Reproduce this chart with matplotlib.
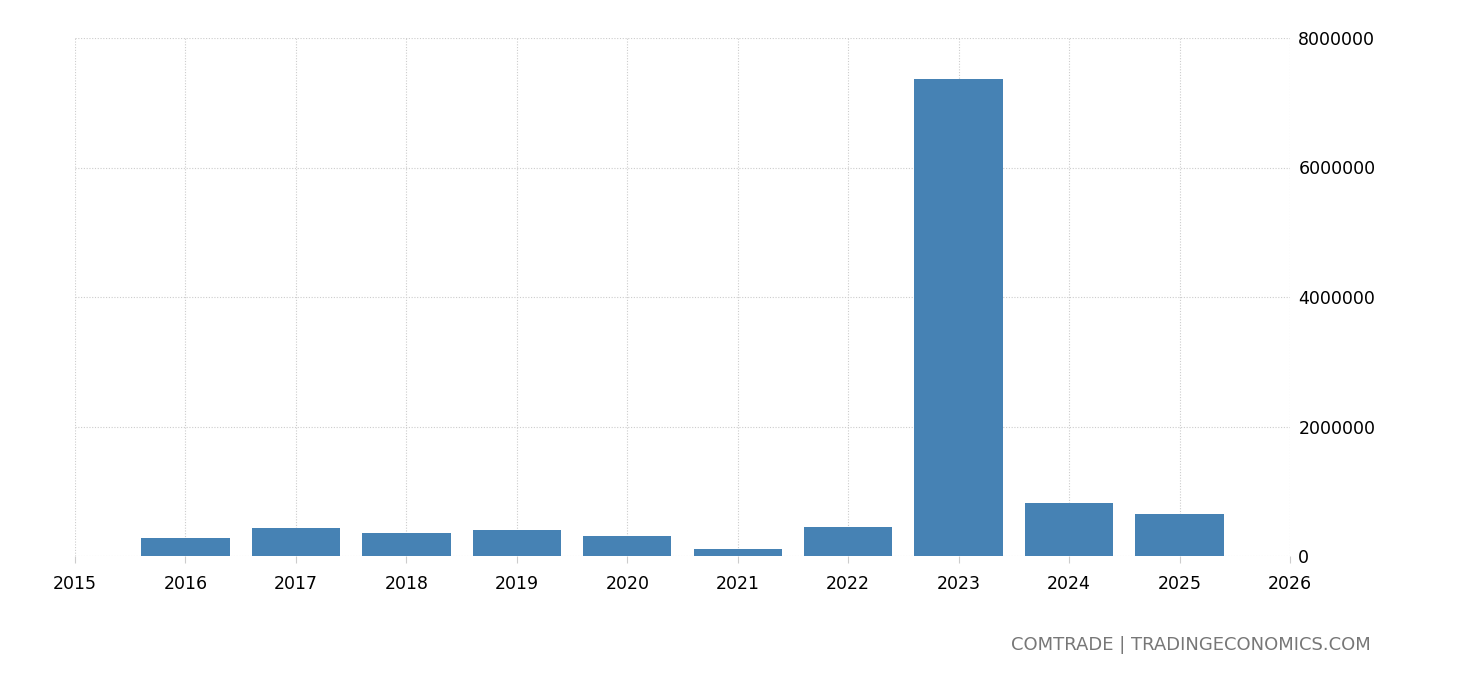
import matplotlib
matplotlib.use("Agg")
import matplotlib.pyplot as plt

years = [2016, 2017, 2018, 2019, 2020, 2021, 2022, 2023, 2024, 2025]
values = [278000, 432000, 355000, 402000, 309000, 108000, 448000, 7367000, 818000, 649000]
x_ticks = list(range(2015, 2027))
y_ticks = [0, 2000000, 4000000, 6000000, 8000000]
y_labels = ["0", "2000000", "4000000", "6000000", "8000000"]

fig = plt.figure(figsize=(14.6, 6.8), dpi=100)
ax = fig.add_axes([75/1460, 1-556/680, (1290-75)/1460, (556-38)/680])

ax.bar(years, values, width=0.8, color="#4682B4", zorder=3)

ax.set_xlim(2015, 2026)
ax.set_ylim(0, 8000000)
ax.set_xticks(x_ticks)
ax.set_xticklabels([str(t) for t in x_ticks], fontsize=12.5)
ax.set_yticks(y_ticks)
ax.set_yticklabels(y_labels, fontsize=12.5)
ax.yaxis.tick_right()
ax.tick_params(axis="y", length=0, pad=6)
ax.tick_params(axis="x", length=5, color="#cccccc", pad=9)

for s in ax.spines.values():
    s.set_visible(False)
ax.grid(True, color="#cccccc", linestyle=(0, (1, 1.5)), linewidth=0.8, zorder=0)
ax.set_axisbelow(True)

fig.text(1371/1460, 1-645/680, "COMTRADE | TRADINGECONOMICS.COM", ha="right", va="center",
         fontsize=13, color="#777777")

fig.savefig("out.png", dpi=100, facecolor="white")
